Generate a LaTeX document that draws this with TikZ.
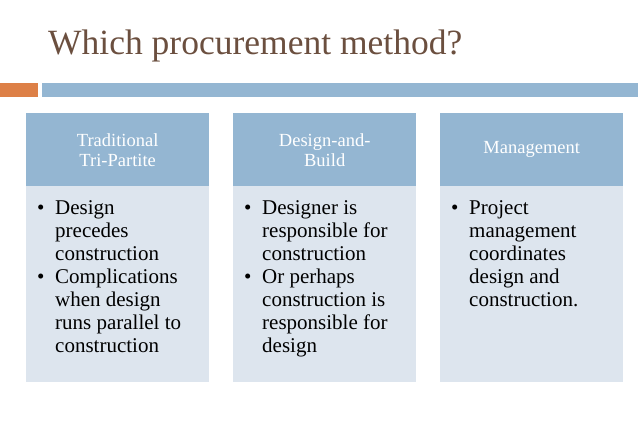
\documentclass[tikz,border=0pt]{standalone}
\usepackage{fontspec}
\setmainfont{Liberation Serif}
\definecolor{hdr}{HTML}{94B6D2}
\definecolor{bdy}{HTML}{DDE5EE}
\definecolor{ttl}{HTML}{6B4F3F}
\definecolor{org}{HTML}{DD8047}
\begin{document}
\begin{tikzpicture}[x=1pt,y=-1pt,
  hbox/.style={fill=hdr,minimum width=183pt,minimum height=73pt,anchor=north west,text=white,align=center,font=\fontsize{18.5}{20}\selectfont,inner sep=0pt},
  bbox/.style={fill=bdy,minimum width=183pt,minimum height=196pt,anchor=north west,inner sep=0pt},
  btxt/.style={anchor=north west,align=left,font=\fontsize{21}{23}\selectfont,inner sep=0pt}]
\useasboundingbox (0,0) rectangle (638,442);
\node[anchor=west,text=ttl,font=\fontsize{35.5}{38}\selectfont,inner sep=0pt] (title) at (48,46) {Which procurement method?};
\fill[org] (0,83) rectangle (38,97);
\fill[hdr] (42,83) rectangle (638,97);
\node[hbox] (h1) at (26,113) {Traditional\\Tri-Partite};
\node[hbox] (h2) at (233,113) {Design-and-\\Build};
\node[hbox] (h3) at (440,113) {Management};
\node[bbox] (b1) at (26,186) {};
\node[bbox] (b2) at (233,186) {};
\node[bbox] (b3) at (440,186) {};
\newcommand{\bl}{\makebox[18pt][l]{•}}
\newcommand{\ind}{\hspace*{18pt}}
\node[btxt] (t1) at (37,200) {\bl Design\\\ind precedes\\\ind construction\\\bl Complications\\\ind when design\\\ind runs parallel to\\\ind construction};
\node[btxt] (t2) at (244,200) {\bl Designer is\\\ind responsible for\\\ind construction\\\bl Or perhaps\\\ind construction is\\\ind responsible for\\\ind design};
\node[btxt] (t3) at (451,200) {\bl Project\\\ind management\\\ind coordinates\\\ind design and\\\ind construction.};
\end{tikzpicture}
\end{document}
